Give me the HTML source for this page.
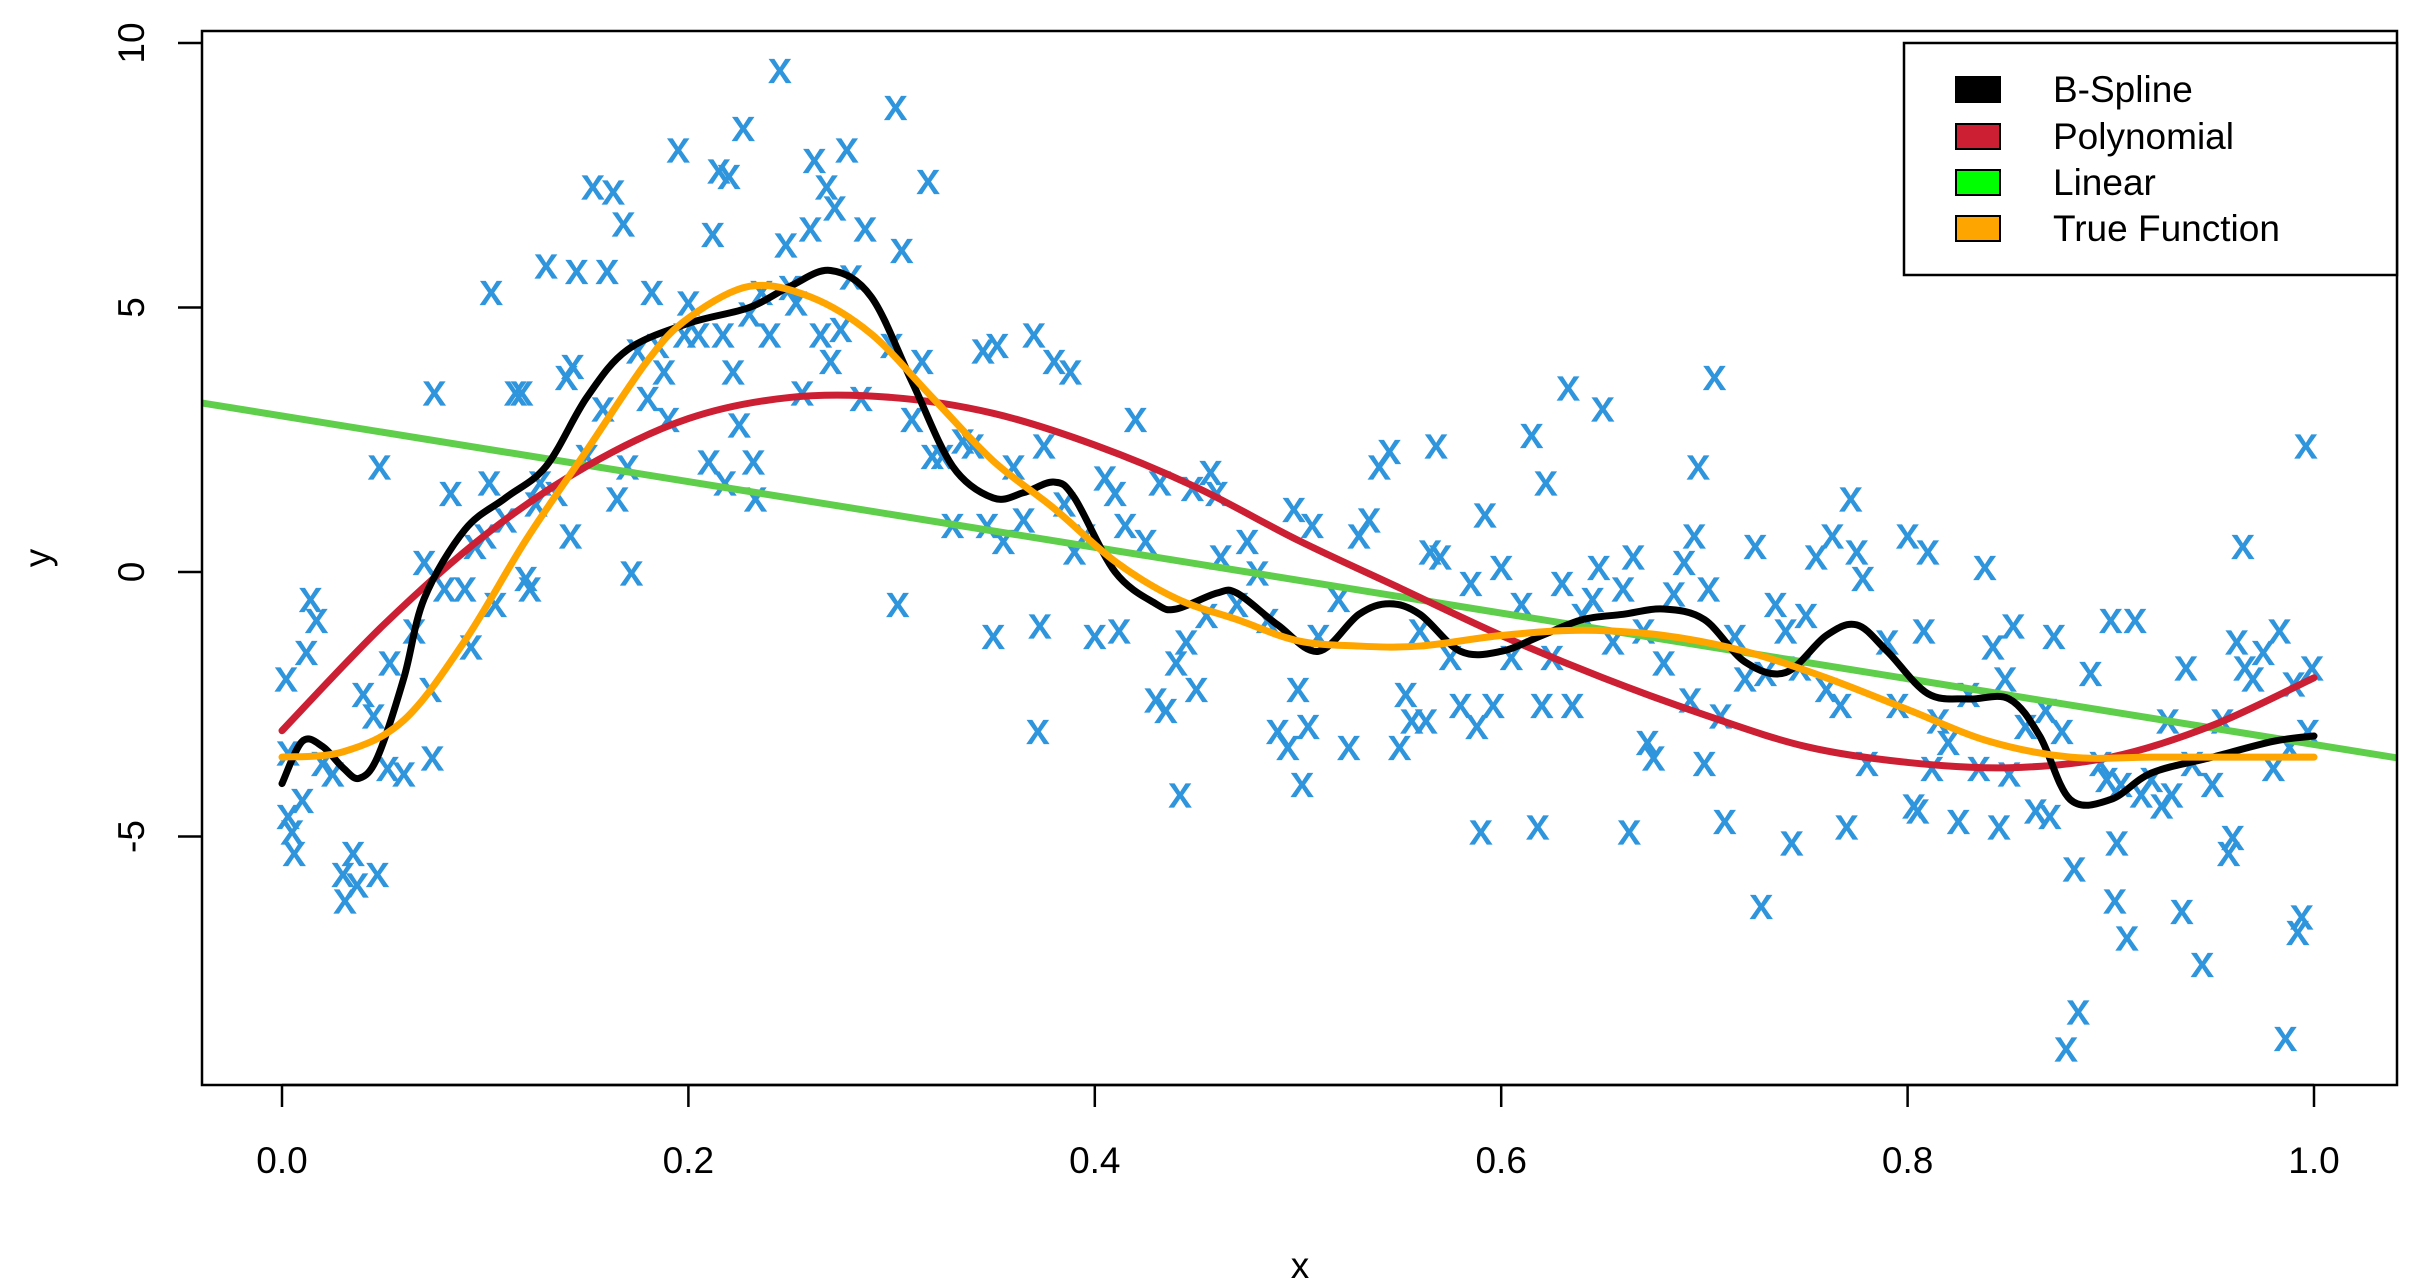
<!DOCTYPE html>
<html><head><meta charset="utf-8"><style>
html,body{margin:0;padding:0;background:#fff;}
svg{display:block;font-family:"Liberation Sans",Arial,sans-serif;}
</style></head><body>
<svg id="chart" width="2419" height="1287" viewBox="0 0 2419 1287" xmlns="http://www.w3.org/2000/svg">
<defs><clipPath id="plotclip"><rect x="202" y="31" width="2195" height="1054"/></clipPath></defs>
<g id="points" clip-path="url(#plotclip)"></g>
<g id="curves" clip-path="url(#plotclip)"></g>
<rect x="202" y="31" width="2195" height="1054" fill="none" stroke="#000" stroke-width="2.5"/>
<g id="xaxis"></g>
<g id="yaxis"></g>
<text x="1300" y="1278" font-size="37" text-anchor="middle">x</text>
<text x="50" y="558" font-size="37" text-anchor="middle" transform="rotate(-90 50 558)">y</text>
<g>
<rect x="1904" y="43" width="493" height="232" fill="#fff" stroke="#000" stroke-width="2.5"/>
<g><rect x="1956" y="77" width="44" height="25" fill="#000" stroke="#000" stroke-width="2"/><text x="2053" y="102" font-size="37">B-Spline</text></g>
<g><rect x="1956" y="124" width="44" height="25" fill="#cc1f33" stroke="#000" stroke-width="2"/><text x="2053" y="149" font-size="37">Polynomial</text></g>
<g><rect x="1956" y="170" width="44" height="25" fill="#00ff00" stroke="#000" stroke-width="2"/><text x="2053" y="195" font-size="37">Linear</text></g>
<g><rect x="1956" y="216" width="44" height="25" fill="#ffa500" stroke="#000" stroke-width="2"/><text x="2053" y="241" font-size="37">True Function</text></g>
</g>
</svg>
<script>
const xTicks=[0,0.2,0.4,0.6,0.8,1.0];
const xTickLabels=["0.0","0.2","0.4","0.6","0.8","1.0"];
const yTicks=[-5,0,5,10];
const yTickLabels=["-5","0","5","10"];
const ptX=[0.002,0.003,0.003,0.005,0.006,0.01,0.012,0.014,0.017,0.02,0.025,0.03,0.031,0.035,0.037,0.04,0.045,0.047,0.048,0.052,0.053,0.06,0.065,0.07,0.073,0.074,0.075,0.08,0.083,0.09,0.093,0.095,0.1,0.102,0.103,0.105,0.11,0.115,0.118,0.12,0.122,0.125,0.127,0.13,0.135,0.14,0.142,0.143,0.145,0.15,0.153,0.158,0.16,0.163,0.165,0.168,0.17,0.172,0.175,0.18,0.182,0.185,0.188,0.19,0.195,0.198,0.2,0.205,0.21,0.212,0.215,0.217,0.218,0.22,0.222,0.225,0.227,0.23,0.232,0.233,0.236,0.24,0.245,0.248,0.25,0.253,0.256,0.26,0.262,0.265,0.268,0.27,0.272,0.275,0.278,0.28,0.285,0.287,0.3,0.302,0.303,0.305,0.31,0.315,0.318,0.32,0.325,0.33,0.335,0.34,0.345,0.347,0.35,0.352,0.355,0.36,0.365,0.37,0.372,0.373,0.375,0.38,0.385,0.388,0.39,0.395,0.4,0.405,0.41,0.412,0.415,0.42,0.425,0.43,0.432,0.435,0.44,0.442,0.445,0.448,0.45,0.455,0.457,0.46,0.462,0.47,0.475,0.48,0.485,0.49,0.495,0.498,0.5,0.502,0.505,0.507,0.51,0.52,0.525,0.53,0.535,0.54,0.545,0.55,0.553,0.556,0.56,0.563,0.565,0.568,0.57,0.575,0.58,0.585,0.588,0.59,0.592,0.596,0.6,0.605,0.61,0.615,0.618,0.62,0.622,0.625,0.63,0.633,0.635,0.64,0.645,0.648,0.65,0.655,0.66,0.663,0.665,0.67,0.672,0.675,0.68,0.685,0.69,0.693,0.695,0.697,0.7,0.702,0.705,0.708,0.71,0.715,0.72,0.725,0.728,0.73,0.735,0.74,0.743,0.747,0.75,0.755,0.76,0.763,0.767,0.77,0.772,0.775,0.778,0.78,0.79,0.795,0.8,0.803,0.805,0.808,0.81,0.812,0.815,0.82,0.825,0.83,0.835,0.838,0.842,0.845,0.848,0.85,0.852,0.858,0.863,0.868,0.87,0.872,0.876,0.878,0.882,0.884,0.89,0.895,0.898,0.9,0.902,0.903,0.905,0.908,0.912,0.915,0.92,0.925,0.928,0.93,0.935,0.937,0.94,0.945,0.95,0.955,0.958,0.96,0.962,0.965,0.966,0.97,0.975,0.98,0.983,0.986,0.988,0.99,0.992,0.994,0.996,0.997,0.999];
const ptY=[-2.0,-3.4,-4.6,-4.9,-5.3,-4.3,-1.5,-0.5,-0.9,-3.6,-3.8,-5.7,-6.2,-5.3,-5.9,-2.3,-2.7,-5.7,2.0,-3.7,-1.7,-3.8,-1.1,0.2,-2.2,-3.5,3.4,-0.3,1.5,-0.3,-1.4,0.5,0.7,1.7,5.3,-0.6,1.0,3.4,3.4,-0.1,-0.3,1.3,1.7,5.8,1.5,3.7,0.7,3.9,5.7,2.2,7.3,3.1,5.7,7.2,1.4,6.6,2.0,0.0,4.2,3.3,5.3,4.3,3.8,2.9,8.0,4.5,5.1,4.5,2.1,6.4,7.6,4.5,1.7,7.5,3.8,2.8,8.4,4.9,2.1,1.4,5.3,4.5,9.5,6.2,5.4,5.1,3.4,6.5,7.8,4.5,7.3,4.0,6.9,4.6,8.0,5.6,3.3,6.5,4.3,8.8,-0.6,6.1,2.9,4.0,7.4,2.2,2.2,0.9,2.5,2.4,4.2,0.9,-1.2,4.3,0.6,2.0,1.0,4.5,-3.0,-1.0,2.4,4.0,1.3,3.8,0.4,0.7,-1.2,1.8,1.5,-1.1,0.9,2.9,0.6,-2.4,1.7,-2.6,-1.7,-4.2,-1.3,1.6,-2.2,-0.8,1.9,1.5,0.3,-0.6,0.6,0.0,-0.9,-3.0,-3.3,1.2,-2.2,-4.0,-2.9,0.9,-1.2,-0.5,-3.3,0.7,1.0,2.0,2.3,-3.3,-2.3,-2.8,-1.1,-2.8,0.4,2.4,0.3,-1.6,-2.5,-0.2,-2.9,-4.9,1.1,-2.5,0.1,-1.6,-0.6,2.6,-4.8,-2.5,1.7,-1.6,-0.2,3.5,-2.5,-0.8,-0.5,0.1,3.1,-1.3,-0.3,-4.9,0.3,-1.1,-3.2,-3.5,-1.7,-0.4,0.2,-2.4,0.7,2.0,-3.6,-0.3,3.7,-2.7,-4.7,-1.2,-2.0,0.5,-6.3,-1.9,-0.6,-1.1,-5.1,-1.8,-0.8,0.3,-2.2,0.7,-2.5,-4.8,1.4,0.4,-0.1,-3.6,-1.3,-2.5,0.7,-4.4,-4.5,-1.1,0.4,-3.7,-2.8,-3.2,-4.7,-2.3,-3.7,0.1,-1.4,-4.8,-2.0,-3.8,-1.0,-2.9,-4.5,-2.6,-4.6,-1.2,-3.0,-9.0,-5.6,-8.3,-1.9,-3.6,-3.9,-0.9,-6.2,-5.1,-4.0,-6.9,-0.9,-4.2,-3.9,-4.4,-2.8,-4.2,-6.4,-1.8,-3.6,-7.4,-4.0,-2.8,-5.3,-5.0,-1.3,0.5,-1.8,-2.0,-1.5,-3.7,-1.1,-8.8,-3.3,-2.1,-6.8,-6.5,2.4,-3.0,-1.8];
const splineX=[0,0.01,0.02,0.03,0.038,0.047,0.06,0.07,0.09,0.11,0.13,0.15,0.17,0.2,0.23,0.25,0.27,0.29,0.31,0.33,0.35,0.365,0.38,0.39,0.41,0.43,0.44,0.46,0.47,0.49,0.51,0.53,0.545,0.56,0.58,0.6,0.62,0.64,0.66,0.68,0.7,0.72,0.74,0.76,0.775,0.79,0.81,0.83,0.85,0.865,0.88,0.9,0.92,0.95,0.98,1.0];
const splineY=[-4.0,-3.2,-3.3,-3.7,-3.9,-3.5,-2.0,-0.5,0.8,1.4,2.0,3.3,4.2,4.7,5.0,5.4,5.7,5.2,3.6,2.0,1.4,1.5,1.7,1.4,0.0,-0.6,-0.7,-0.4,-0.4,-1.0,-1.5,-0.8,-0.6,-0.8,-1.5,-1.5,-1.2,-0.9,-0.8,-0.7,-0.9,-1.7,-1.9,-1.2,-1.0,-1.5,-2.3,-2.4,-2.4,-3.1,-4.3,-4.3,-3.8,-3.5,-3.2,-3.1];
const polyX=[0,0.05,0.1,0.15,0.2,0.25,0.3,0.35,0.4,0.45,0.5,0.55,0.6,0.65,0.7,0.75,0.8,0.85,0.9,0.95,1.0];
const polyY=[-3.0,-1.0,0.7,2.0,2.9,3.3,3.3,3.0,2.4,1.6,0.6,-0.3,-1.2,-2.0,-2.7,-3.3,-3.6,-3.7,-3.5,-2.9,-2.0];
const trueX=[0,0.03,0.06,0.09,0.12,0.15,0.18,0.2,0.23,0.26,0.29,0.32,0.35,0.38,0.41,0.44,0.47,0.5,0.53,0.56,0.6,0.64,0.68,0.72,0.76,0.8,0.84,0.88,0.92,0.96,1.0];
const trueY=[-3.5,-3.4,-2.8,-1.3,0.6,2.3,4.0,4.8,5.4,5.2,4.5,3.3,2.1,1.2,0.2,-0.5,-0.9,-1.3,-1.4,-1.4,-1.2,-1.1,-1.2,-1.5,-2.0,-2.6,-3.2,-3.5,-3.5,-3.5,-3.5];
const linearCoef=[2.95,-6.21];
const linearRange=[-0.05,1.06];

const NS="http://www.w3.org/2000/svg";
const X0=282, X1=2314, Y0=572, YU=52.9;
const sx=v=>X0+(X1-X0)*v;
const sy=v=>Y0-YU*v;
function mk(tag,attrs,parent){const e=document.createElementNS(NS,tag);for(const k in attrs)e.setAttribute(k,attrs[k]);parent.appendChild(e);return e;}

const pts=document.getElementById('points');
for(let i=0;i<ptX.length;i++){
  const t=mk('text',{x:sx(ptX[i]),y:sy(ptY[i])+13,'font-size':44,'text-anchor':'middle',fill:'#2f95dc',stroke:'#2f95dc','stroke-width':1.2},pts);
  
  
  t.textContent='x';
}
function smoothPath(xs,ys){
  const p=xs.map((x,i)=>[sx(x),sy(ys[i])]);
  let d='M'+p[0][0]+','+p[0][1];
  for(let i=0;i<p.length-1;i++){
    const a=p[Math.max(0,i-1)],b=p[i],c=p[i+1],e=p[Math.min(p.length-1,i+2)];
    const c1=[b[0]+(c[0]-a[0])/6,b[1]+(c[1]-a[1])/6],c2=[c[0]-(e[0]-b[0])/6,c[1]-(e[1]-b[1])/6];
    d+=' C'+c1[0]+','+c1[1]+' '+c2[0]+','+c2[1]+' '+c[0]+','+c[1];
  }
  return d;
}
const cv=document.getElementById('curves');
const lin=mk('line',{x1:sx(linearRange[0]),y1:sy(linearCoef[0]+linearCoef[1]*linearRange[0]),x2:sx(linearRange[1]),y2:sy(linearCoef[0]+linearCoef[1]*linearRange[1]),stroke:'#5fce4a','stroke-width':7},cv);


const pl=mk('path',{d:smoothPath(polyX,polyY),fill:'none',stroke:'#cc1f33','stroke-width':7,'stroke-linecap':'round'},cv);


const bl=mk('path',{d:smoothPath(splineX,splineY),fill:'none',stroke:'#000','stroke-width':7,'stroke-linecap':'round'},cv);


const tl=mk('path',{d:smoothPath(trueX,trueY),fill:'none',stroke:'#ffa500','stroke-width':7,'stroke-linecap':'round'},cv);



const xa=document.getElementById('xaxis');
mk('line',{x1:sx(xTicks[0]),y1:1085,x2:sx(xTicks[xTicks.length-1]),y2:1085,stroke:'#000','stroke-width':2.5},xa);
xTicks.forEach((v,i)=>{
  const l=mk('line',{x1:sx(v),y1:1085,x2:sx(v),y2:1107,stroke:'#000','stroke-width':2.5},xa);
  
  
  const t=mk('text',{x:sx(v),y:1173,'font-size':37,'text-anchor':'middle'},xa);
  
  
  t.textContent=xTickLabels[i];
});
const ya=document.getElementById('yaxis');
yTicks.forEach((v,i)=>{
  const l=mk('line',{x1:202,y1:sy(v),x2:178,y2:sy(v),stroke:'#000','stroke-width':2.5},ya);
  
  
  const t=mk('text',{x:144,y:sy(v),'font-size':37,'text-anchor':'middle',transform:'rotate(-90 144 '+sy(v)+')'},ya);
  
  
  t.textContent=yTickLabels[i];
});
</script>
</body></html>
